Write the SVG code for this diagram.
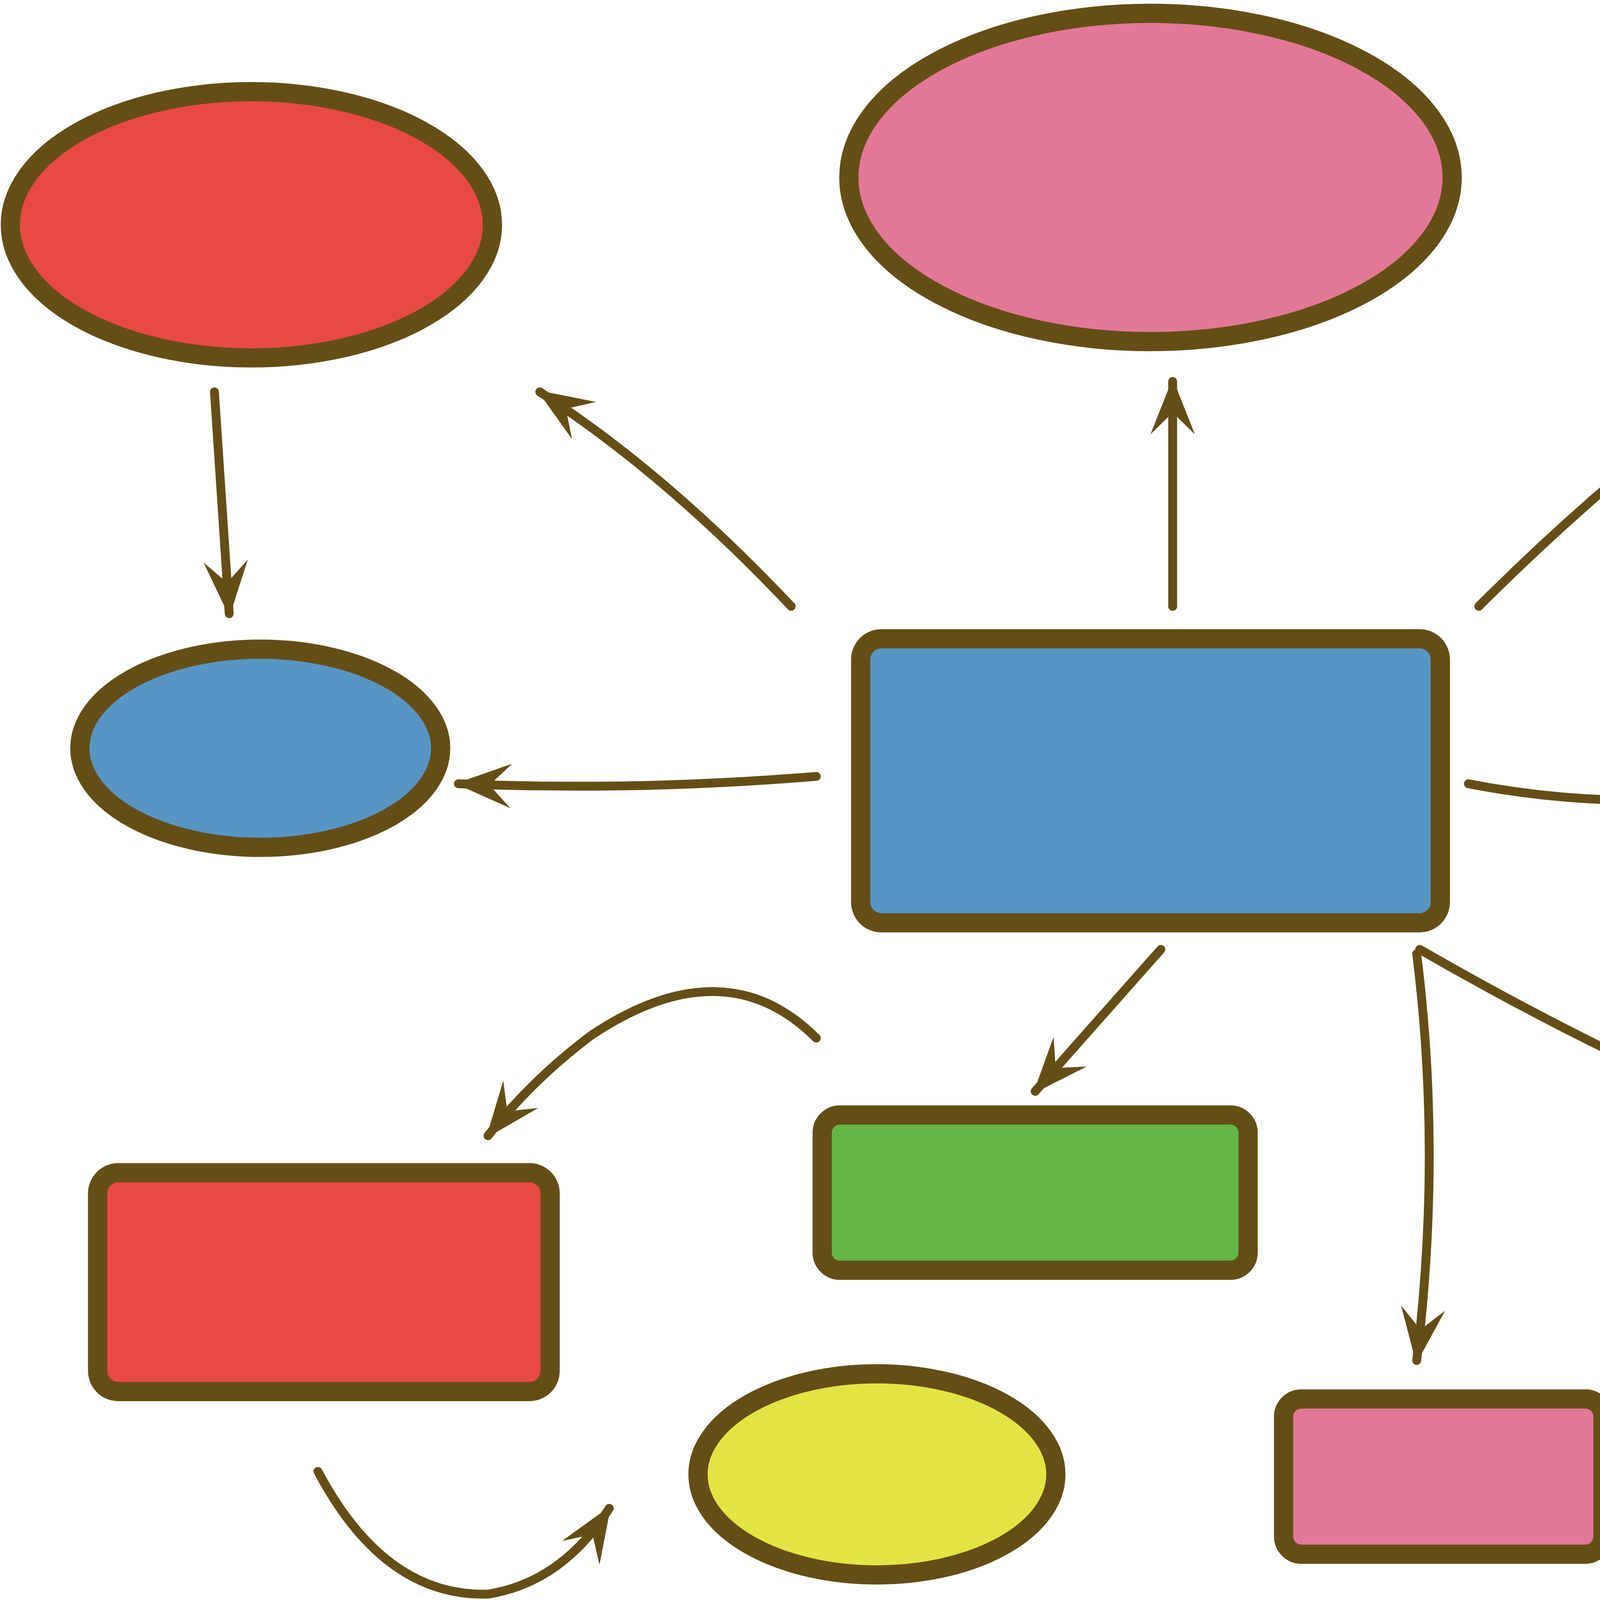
<svg xmlns="http://www.w3.org/2000/svg" width="5936" height="4143" viewBox="0 0 5936 4143">
<style>
.n{stroke:#654E16;stroke-width:13;stroke-linejoin:round}
.c{fill:none;stroke:#654E16;stroke-width:6;stroke-linecap:round}
.red{fill:#E84A43}.pink{fill:#E27896}.yel{fill:#E2E443}.blue{fill:#5795C5}.green{fill:#63B746}
</style>
<defs>
<marker id="h" viewBox="0 0 20 20" refX="17" refY="10" markerWidth="7" markerHeight="5" orient="auto" preserveAspectRatio="none">
<path d="M0,0 L18,10 L0,20 L7,10 Z" fill="#654E16"/>
</marker>
</defs>
<rect width="5936" height="4143" fill="#fff"/>
<g transform="scale(3.7857)">
<g id="n1"><ellipse class="n red" cx="170" cy="152" rx="163" ry="90"/></g>
<g id="n2"><ellipse class="n pink" cx="778" cy="120" rx="204" ry="111"/></g>
<g id="n3"><rect class="n yel" x="1234" y="50" width="308" height="304" rx="14"/></g>
<g id="n4"><ellipse class="n blue" cx="176" cy="506" rx="122" ry="67"/></g>
<g id="n5"><rect class="n blue" x="582" y="432" width="392" height="192" rx="14"/></g>
<g id="n6"><rect class="n green" x="1211" y="463" width="311" height="148" rx="14"/></g>
<g id="n7"><rect class="n red" x="66" y="793" width="306" height="148" rx="14"/></g>
<g id="n8"><rect class="n green" x="556" y="754" width="288" height="105" rx="12"/></g>
<g id="n9"><ellipse class="n yel" cx="593" cy="997" rx="121" ry="68"/></g>
<g id="n10"><rect class="n pink" x="868" y="946" width="216" height="105" rx="12"/></g>
<g id="n11"><ellipse class="n red" cx="1389" cy="940" rx="171" ry="94"/></g>
<g id="connectors">
<path class="c" d="M145,265 Q150,340 155,415" marker-end="url(#h)"/>
<path class="c" d="M535,410 Q450,320 365,265" marker-end="url(#h)"/>
<path class="c" d="M793,410 L793,258" marker-end="url(#h)"/>
<path class="c" d="M1000,410 Q1090,320 1185,252" marker-end="url(#h)"/>
<path class="c" d="M552,525 Q430,535 310,530" marker-end="url(#h)"/>
<path class="c" d="M993,530 Q1070,545 1150,540" marker-end="url(#h)"/>
<path class="c" d="M552,702 Q490,640 400,700 Q360,730 330,768" marker-end="url(#h)"/>
<path class="c" d="M785,642 L700,738" marker-end="url(#h)"/>
<path class="c" d="M958,645 Q975,780 958,920" marker-end="url(#h)"/>
<path class="c" d="M960,642 Q1130,740 1300,800" marker-end="url(#h)"/>
<path class="c" d="M215,995 Q260,1080 330,1078 Q380,1070 412,1020" marker-end="url(#h)"/>
</g>
</g>
</svg>
